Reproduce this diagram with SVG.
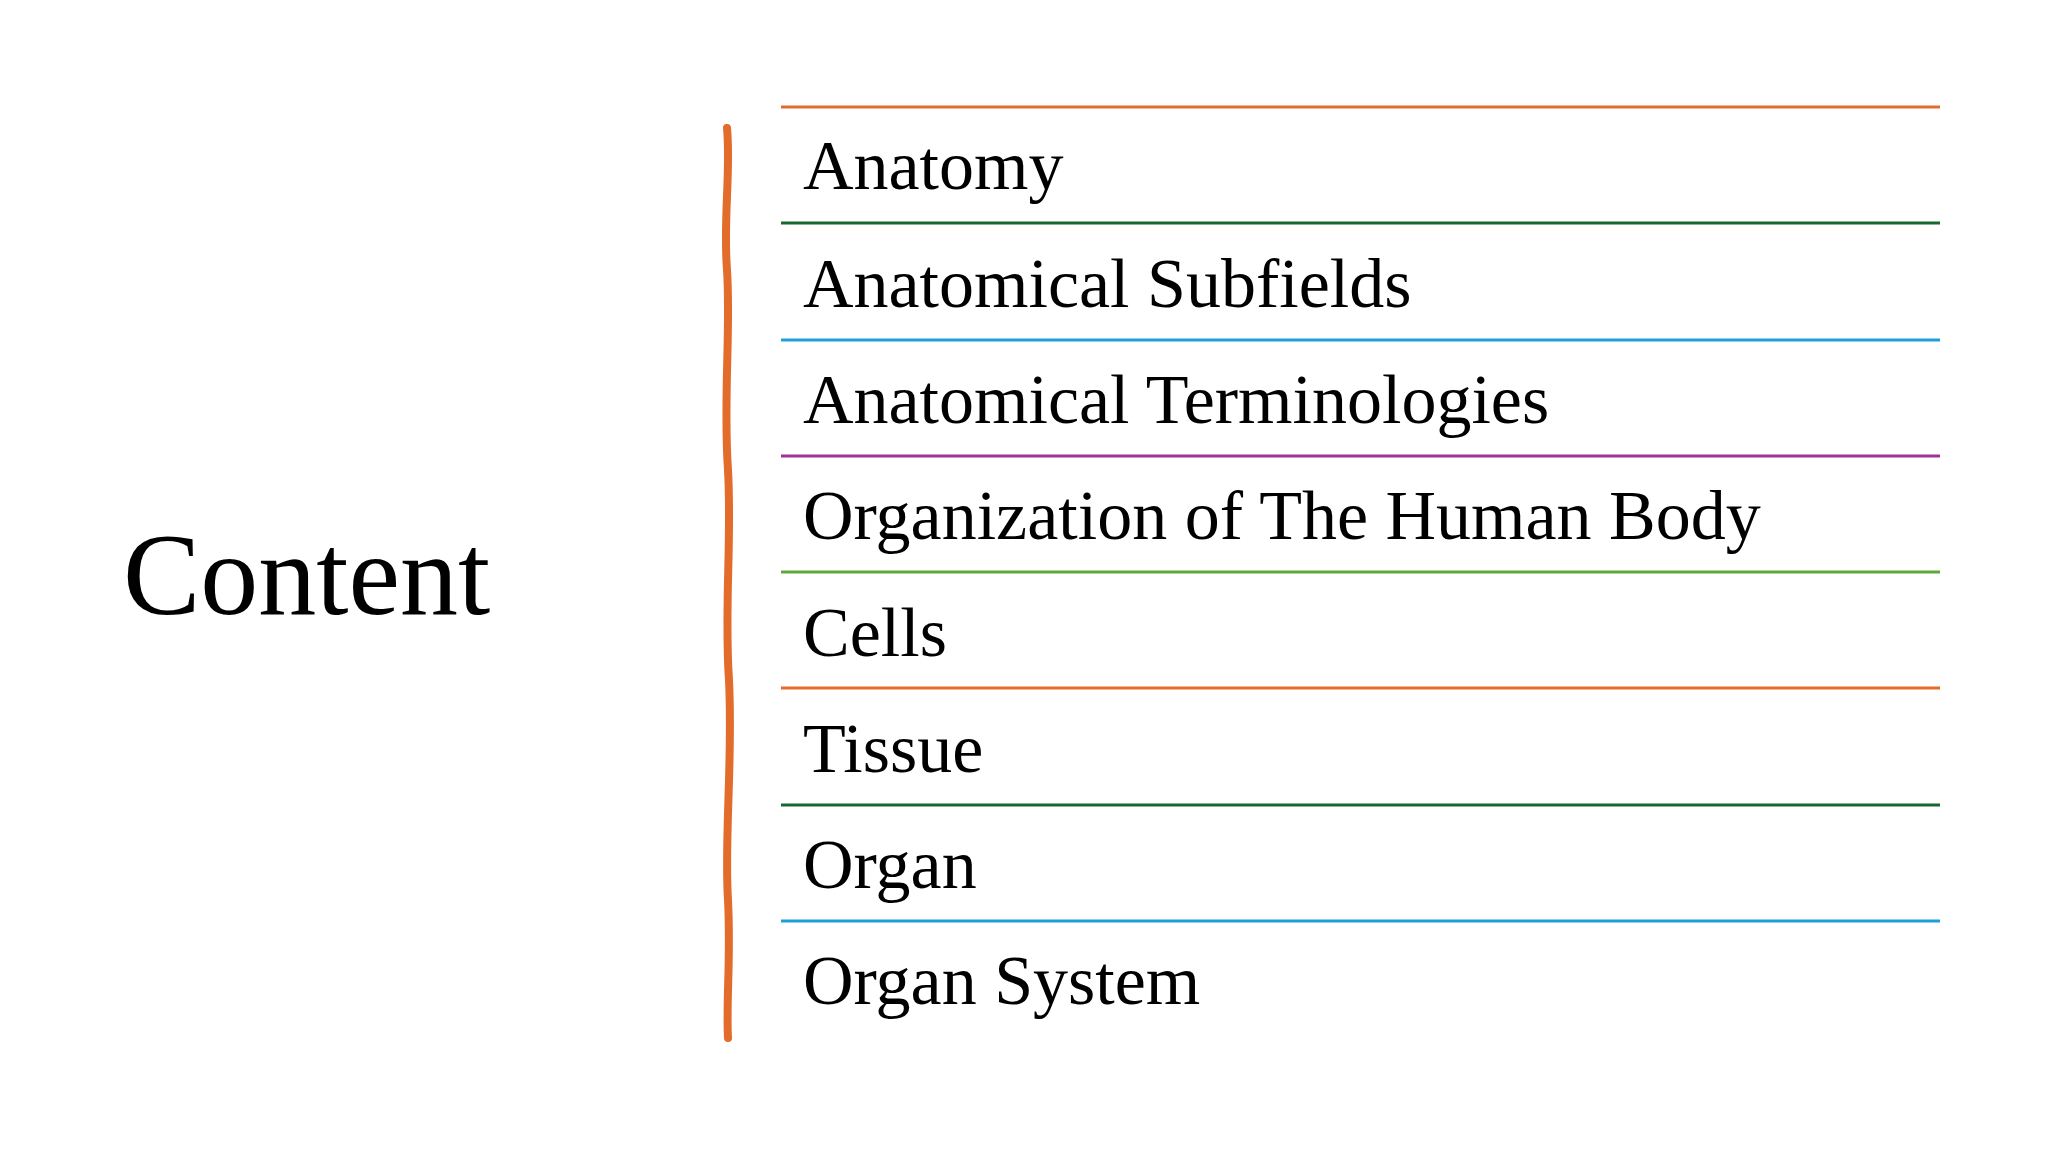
<svg xmlns="http://www.w3.org/2000/svg" width="2048" height="1152" viewBox="0 0 2048 1152">
<style>
text{font-family:"Liberation Serif",serif;fill:#000}
.i{font-size:70px}
.l{stroke-width:3;fill:none}
</style>
<rect width="2048" height="1152" fill="#fff"/>
<g id="title"><text x="123" y="614" style="font-size:116px">Content</text></g>
<g id="bracket"><path d="M727,128 C731,170 723,220 727,270 C731,330 723,400 728,470 C732,540 724,610 729,680 C733,760 724,840 728,900 C731,960 726,1000 728,1038" stroke="#E46C2B" stroke-width="8" fill="none" stroke-linecap="round"/></g>
<g id="connectors">
<line class="l" x1="781" y1="107" x2="1940" y2="107" stroke="#E46C2B"/>
<line class="l" x1="781" y1="223" x2="1940" y2="223" stroke="#17682E"/>
<line class="l" x1="781" y1="340" x2="1940" y2="340" stroke="#1BA1D8"/>
<line class="l" x1="781" y1="456" x2="1940" y2="456" stroke="#A0329A"/>
<line class="l" x1="781" y1="572" x2="1940" y2="572" stroke="#5DAA3A"/>
<line class="l" x1="781" y1="688" x2="1940" y2="688" stroke="#E46C2B"/>
<line class="l" x1="781" y1="805" x2="1940" y2="805" stroke="#17682E"/>
<line class="l" x1="781" y1="921" x2="1940" y2="921" stroke="#1BA1D8"/>
</g>
<g id="n1"><text class="i" x="803" y="189">Anatomy</text></g>
<g id="n2"><text class="i" x="803" y="307">Anatomical Subfields</text></g>
<g id="n3"><text class="i" x="803" y="423">Anatomical Terminologies</text></g>
<g id="n4"><text class="i" x="803" y="539">Organization of The Human Body</text></g>
<g id="n5"><text class="i" x="803" y="656">Cells</text></g>
<g id="n6"><text class="i" x="803" y="772">Tissue</text></g>
<g id="n7"><text class="i" x="803" y="888">Organ</text></g>
<g id="n8"><text class="i" x="803" y="1004">Organ System</text></g>
</svg>
